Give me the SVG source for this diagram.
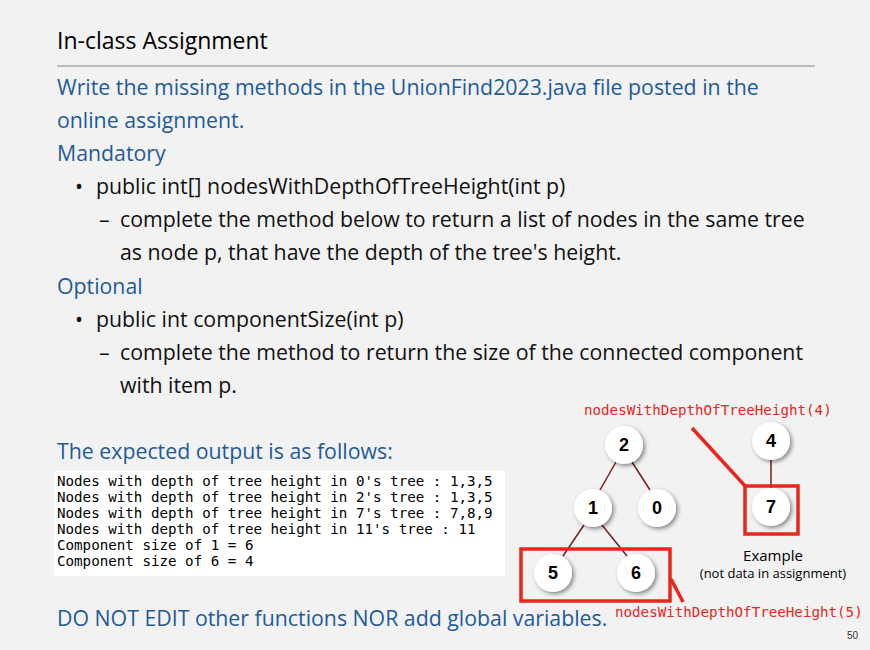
<svg xmlns="http://www.w3.org/2000/svg" width="870" height="650" viewBox="0 0 870 650">
<defs>
<style>
.b{font-family:"Open Sans","Liberation Sans",sans-serif;font-size:21.3px;fill:#1f5b99}
.k{font-family:"Open Sans","Liberation Sans",sans-serif;font-size:21.3px;fill:#111}
.m{font-family:"DejaVu Sans Mono",monospace;font-size:14.2px;fill:#000}
.r{font-family:"DejaVu Sans Mono",monospace;font-size:14.2px;fill:#e8261c}
.n{fill:#fff;filter:url(#sh)}
.t{font-family:"Liberation Sans",sans-serif;font-size:18px;font-weight:bold;text-anchor:middle;fill:#000}
.e{stroke:#7a1c1c;stroke-width:1.5}
.rb{fill:none;stroke:#e8261c;stroke-width:3.5}
</style>
<filter id="sh" x="-50%" y="-50%" width="200%" height="200%"><feDropShadow dx="2" dy="2" stdDeviation="2" flood-color="#000" flood-opacity="0.45"/></filter>
</defs>
<rect width="870" height="650" fill="#f2f2f2"/>
<text x="57" y="49" font-family="Open Sans,Liberation Sans,sans-serif" font-size="23" fill="#000">In-class Assignment</text>
<line x1="57" y1="66" x2="815" y2="66" stroke="#888" stroke-width="1"/>
<text class="b" x="57" y="95">Write the missing methods in the UnionFind2023.java file posted in the</text>
<text class="b" x="57" y="128">online assignment.</text>
<text class="b" x="57" y="161">Mandatory</text>
<text class="k" x="75" y="194">•</text><text class="k" x="96" y="194">public int[] nodesWithDepthOfTreeHeight(int p)</text>
<text class="k" x="99" y="227">–</text><text class="k" x="120" y="227">complete the method below to return a list of nodes in the same tree</text>
<text class="k" x="120" y="260">as node p, that have the depth of the tree's height.</text>
<text class="b" x="57" y="294">Optional</text>
<text class="k" x="75" y="327">•</text><text class="k" x="96" y="327">public int componentSize(int p)</text>
<text class="k" x="99" y="360">–</text><text class="k" x="120" y="360">complete the method to return the size of the connected component</text>
<text class="k" x="120" y="393">with item p.</text>
<text class="b" x="57" y="459">The expected output is as follows:</text>
<rect x="54" y="471" width="451" height="105" fill="#fff"/>
<g class="m">
<text x="57" y="486">Nodes with depth of tree height in 0's tree : 1,3,5</text>
<text x="57" y="502">Nodes with depth of tree height in 2's tree : 1,3,5</text>
<text x="57" y="518">Nodes with depth of tree height in 7's tree : 7,8,9</text>
<text x="57" y="534">Nodes with depth of tree height in 11's tree : 11</text>
<text x="57" y="550">Component size of 1 = 6</text>
<text x="57" y="566">Component size of 6 = 4</text>
</g>
<text class="b" x="57" y="626">DO NOT EDIT other functions NOR add global variables.</text>
<text x="847" y="639" font-family="Liberation Sans,sans-serif" font-size="10" fill="#333">50</text>
<g id="connectors">
<line class="e" x1="616" y1="462" x2="600" y2="490"/>
<line class="e" x1="632" y1="462" x2="650" y2="490"/>
<line class="e" x1="584" y1="525" x2="563" y2="556"/>
<line class="e" x1="602" y1="525" x2="627" y2="556"/>
<line class="e" x1="771" y1="460" x2="771" y2="489"/>
</g>
<g id="n2"><circle class="n" cx="624" cy="445" r="19"/><text class="t" x="624" y="451">2</text></g>
<g id="n1"><circle class="n" cx="593" cy="508" r="19"/><text class="t" x="593" y="514">1</text></g>
<g id="n0"><circle class="n" cx="657" cy="508" r="19"/><text class="t" x="657" y="514">0</text></g>
<g id="n5"><circle class="n" cx="553" cy="573" r="19"/><text class="t" x="553" y="579">5</text></g>
<g id="n6"><circle class="n" cx="636" cy="573" r="19"/><text class="t" x="636" y="579">6</text></g>
<g id="n4"><circle class="n" cx="771" cy="441" r="19"/><text class="t" x="771" y="447">4</text></g>
<g id="n7"><circle class="n" cx="771" cy="507" r="19"/><text class="t" x="771" y="513">7</text></g>
<g id="highlights">
<rect class="rb" x="521" y="549" width="149" height="52"/>
<rect class="rb" x="745" y="486" width="53" height="48"/>
<line x1="692" y1="428" x2="746" y2="487" stroke="#e8261c" stroke-width="3.5"/>
<line x1="671" y1="579" x2="683" y2="602" stroke="#e8261c" stroke-width="3.5"/>
<text class="r" x="584" y="415">nodesWithDepthOfTreeHeight(4)</text>
<text class="r" x="615" y="617">nodesWithDepthOfTreeHeight(5)</text>
</g>
<text x="773" y="561" text-anchor="middle" font-family="Open Sans,Liberation Sans,sans-serif" font-size="15" fill="#000">Example</text>
<text x="773" y="578" text-anchor="middle" font-family="Open Sans,Liberation Sans,sans-serif" font-size="13" fill="#000">(not data in assignment)</text>
</svg>
